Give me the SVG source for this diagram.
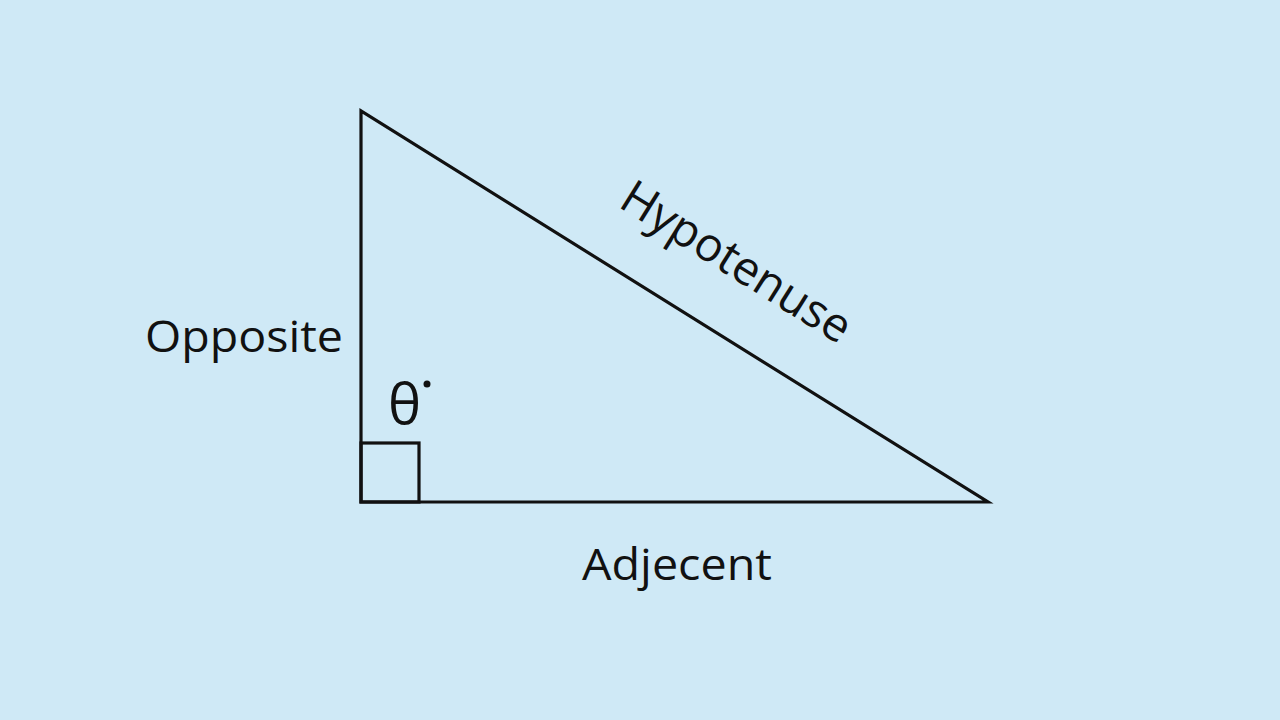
<svg xmlns="http://www.w3.org/2000/svg" width="1280" height="720" viewBox="0 0 1280 720">
<style>
.lbl{font-family:"Open Sans","Noto Sans","DejaVu Sans",sans-serif;font-size:44px;fill:#111;}
.edge{fill:none;stroke:#111;stroke-width:3.2;stroke-linejoin:miter;}
</style>
<rect width="1280" height="720" fill="#cfe9f6"/>
<g id="connectors">
<polygon class="edge" points="361,111 361,502 988,502"/>
<rect class="edge" x="361" y="443" width="58" height="59"/>
</g>
<g id="opposite"><text class="lbl" x="145" y="352" textLength="198" lengthAdjust="spacingAndGlyphs">Opposite</text></g>
<g id="adjacent"><text class="lbl" x="582" y="580" textLength="190" lengthAdjust="spacingAndGlyphs">Adjecent</text></g>
<g id="hypotenuse"><text class="lbl" style="font-size:47px" transform="translate(617,206) rotate(32)" x="0" y="0" textLength="262" lengthAdjust="spacingAndGlyphs">Hypotenuse</text></g>
<g id="theta"><text class="lbl" style="font-size:56px" x="388" y="424">θ</text><circle cx="427" cy="384" r="3.5" fill="#111"/></g>
</svg>
